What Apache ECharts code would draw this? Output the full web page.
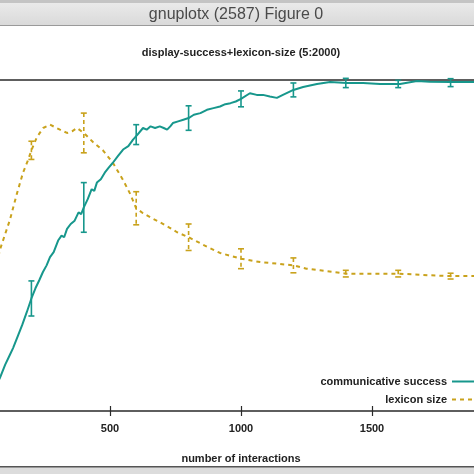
<!DOCTYPE html>
<html>
<head>
<meta charset="utf-8">
<script src="https://cdn.jsdelivr.net/npm/echarts@6/dist/echarts.min.js"></script>
<style>
html,body{margin:0;padding:0;background:#fff;}
#c{width:474px;height:474px;}
</style>
</head>
<body>
<div id="c"></div>
<script>
// ---- data ----
const chartTitle = "display-success+lexicon-size (5:2000)";
const windowTitle = "gnuplotx (2587) Figure 0";
const xAxisTitle = "number of interactions";
const seriesNames = ["communicative success", "lexicon size"];
const xTicks = [0, 500, 1000, 1500, 2000];

// communicative success (mean curve)
const successX = [40, 80, 100, 118, 130, 150, 165, 183, 200, 215, 230, 244, 258, 271, 285, 302, 315, 325, 336, 350, 365, 380, 390, 400, 415, 430, 440, 450, 465, 480, 495, 511, 530, 550, 570, 588, 605, 626, 640, 655, 672, 690, 705, 718, 730, 740, 760, 780, 800, 820, 845, 870, 895, 920, 940, 960, 980, 1000, 1034, 1060, 1084, 1110, 1137, 1160, 1200, 1237, 1290, 1340, 1405, 1466, 1531, 1607, 1672, 1720, 1798, 1886, 2000];
const successY = [0.04, 0.10, 0.14, 0.17, 0.19, 0.23, 0.26, 0.30, 0.34, 0.37, 0.395, 0.42, 0.44, 0.465, 0.48, 0.515, 0.53, 0.525, 0.55, 0.565, 0.575, 0.60, 0.595, 0.615, 0.64, 0.67, 0.665, 0.69, 0.70, 0.72, 0.735, 0.75, 0.77, 0.79, 0.80, 0.82, 0.835, 0.855, 0.85, 0.86, 0.855, 0.86, 0.855, 0.85, 0.86, 0.87, 0.875, 0.88, 0.885, 0.895, 0.90, 0.91, 0.915, 0.92, 0.927, 0.93, 0.935, 0.943, 0.96, 0.955, 0.955, 0.95, 0.946, 0.955, 0.97, 0.979, 0.988, 0.994, 0.991, 0.991, 0.988, 0.988, 0.997, 0.995, 0.994, 0.994, 0.995];

// lexicon size (mean curve)
const lexiconX = [40, 80, 118, 145, 168, 187, 200, 221, 245, 271, 290, 309, 336, 355, 374, 400, 435, 473, 511, 550, 576, 600, 626, 660, 691, 725, 756, 800, 855, 920, 1000, 1073, 1140, 1200, 1250, 1302, 1350, 1400, 1492, 1600, 1722, 1800, 1890, 2000];
const lexiconY = [14.0, 19.5, 23.1, 26.3, 28.8, 30.3, 31.5, 33.1, 34.2, 34.6, 34.3, 34.0, 33.6, 33.8, 34.2, 33.6, 32.5, 31.5, 30.0, 27.9, 26.3, 24.5, 23.9, 23.3, 22.8, 22.2, 21.6, 21.0, 20.1, 19.1, 18.4, 18.0, 17.8, 17.6, 17.2, 17.0, 16.8, 16.6, 16.6, 16.6, 16.4, 16.3, 16.3, 16.3];

// error bars (every 200 interactions)
const errX = [200, 400, 600, 800, 1000, 1200, 1400, 1600, 1800];
const successMean = [0.34, 0.615, 0.835, 0.885, 0.943, 0.97, 0.991, 0.988, 0.992];
const successDev = [0.053, 0.075, 0.03, 0.037, 0.024, 0.021, 0.014, 0.011, 0.012];
const lexiconMean = [31.5, 33.6, 24.5, 21.0, 18.4, 17.6, 16.6, 16.6, 16.3];
const lexiconDev = [1.1, 2.4, 2.0, 1.6, 1.2, 0.9, 0.4, 0.4, 0.35];

// ---- chart ----
const teal = '#17978c';
const gold = '#c9a21c';
const font = '"Liberation Sans", Arial, sans-serif';

const zip = (a, b) => a.map((v, i) => [v, b[i]]);
const zip3 = (a, b, c) => a.map((v, i) => [v, b[i], c[i]]);

function errRender(color, dashed) {
  return function (params, api) {
    const x = api.value(0), m = api.value(1), d = api.value(2);
    const t = api.coord([x, m + d]);
    const b = api.coord([x, m - d]);
    const hw = 3;
    const st = {stroke: color, lineWidth: 1.6};
    if (dashed) st.lineDash = [4, 3];
    return {
      type: 'group',
      children: [
        {type: 'line', shape: {x1: t[0], y1: t[1], x2: b[0], y2: b[1]}, style: st},
        {type: 'line', shape: {x1: t[0] - hw, y1: t[1], x2: t[0] + hw, y2: t[1]}, style: {stroke: color, lineWidth: 1.6}},
        {type: 'line', shape: {x1: b[0] - hw, y1: b[1], x2: b[0] + hw, y2: b[1]}, style: {stroke: color, lineWidth: 1.6}}
      ]
    };
  };
}

const chart = echarts.init(document.getElementById('c'), null, {renderer: 'canvas'});
chart.setOption({
  animation: false,
  backgroundColor: '#ffffff',
  grid: {
    left: -21, right: -29, top: 80, bottom: 63,
    outerBoundsMode: 'none', containLabel: false,
    show: true, borderColor: '#2a2a2a', borderWidth: 1.6, backgroundColor: 'transparent'
  },
  legend: {
    data: seriesNames,
    orient: 'vertical',
    align: 'right',
    right: -16,
    top: 371,
    itemWidth: 32,
    itemHeight: 12,
    itemGap: 7,
    itemStyle: {opacity: 0},
    textStyle: {fontFamily: font, fontWeight: 'bold', fontSize: 11, color: '#222'}
  },
  xAxis: [{
    type: 'value', min: xTicks[0], max: xTicks[xTicks.length - 1], interval: 500,
    position: 'bottom',
    name: xAxisTitle, nameLocation: 'middle', nameGap: 42,
    nameTextStyle: {fontFamily: font, fontWeight: 'bold', fontSize: 11, color: '#222'},
    axisLine: {show: false},
    axisTick: {show: true, inside: true, length: 5, lineStyle: {color: '#2a2a2a', width: 1.2}},
    axisLabel: {fontFamily: font, fontWeight: 'bold', fontSize: 11, color: '#222', margin: 12, formatter: v => String(v)},
    splitLine: {show: false}
  }, {
    type: 'value', min: xTicks[0], max: xTicks[xTicks.length - 1], interval: 500,
    position: 'top',
    axisLine: {show: false},
    axisTick: {show: true, inside: true, length: 5, lineStyle: {color: '#2a2a2a', width: 1.2}},
    axisLabel: {show: false},
    splitLine: {show: false}
  }],
  yAxis: [
    {type: 'value', min: 0, max: 1, show: false},
    {type: 'value', min: 0, max: 40, show: false}
  ],
  series: [
    {
      name: seriesNames[0], type: 'line', data: zip(successX, successY),
      xAxisIndex: 0, yAxisIndex: 0, symbol: 'none', z: 3,
      lineStyle: {color: teal, width: 2}, itemStyle: {color: teal}
    },
    {
      name: seriesNames[1], type: 'line', data: zip(lexiconX, lexiconY),
      xAxisIndex: 0, yAxisIndex: 1, symbol: 'none', z: 2,
      lineStyle: {color: gold, width: 2, type: [4, 4]}, itemStyle: {color: gold}
    },
    {
      name: 'success-err', type: 'custom', xAxisIndex: 0, yAxisIndex: 0, z: 4,
      data: zip3(errX, successMean, successDev), renderItem: errRender(teal, false)
    },
    {
      name: 'lexicon-err', type: 'custom', xAxisIndex: 0, yAxisIndex: 1, z: 3,
      data: zip3(errX, lexiconMean, lexiconDev), renderItem: errRender(gold, true)
    }
  ],
  graphic: [
    {type: 'rect', shape: {x: 0, y: 0, width: 474, height: 26}, style: {fill: new echarts.graphic.LinearGradient(0, 0, 0, 1, [{offset: 0, color: '#ececec'}, {offset: 1, color: '#d9d9d9'}])}, z: 10},
    {type: 'rect', shape: {x: 0, y: 0, width: 474, height: 3}, style: {fill: '#c4c4c4'}, z: 11},
    {type: 'rect', shape: {x: 0, y: 25, width: 474, height: 1}, style: {fill: '#9a9a9a'}, z: 11},
    {type: 'text', x: 236, y: 15, style: {text: windowTitle, textAlign: 'center', textVerticalAlign: 'middle', font: '16px ' + font, fill: '#4a4a4a'}, z: 12},
    {type: 'text', x: 241, y: 53, style: {text: chartTitle, textAlign: 'center', textVerticalAlign: 'middle', font: 'bold 11px ' + font, fill: '#222'}, z: 12},
    {type: 'rect', shape: {x: 0, y: 466, width: 474, height: 8}, style: {fill: '#dcdcdc'}, z: 10},
    {type: 'rect', shape: {x: 0, y: 466, width: 474, height: 1.5}, style: {fill: '#555'}, z: 11}
  ]
});
</script>
</body>
</html>
